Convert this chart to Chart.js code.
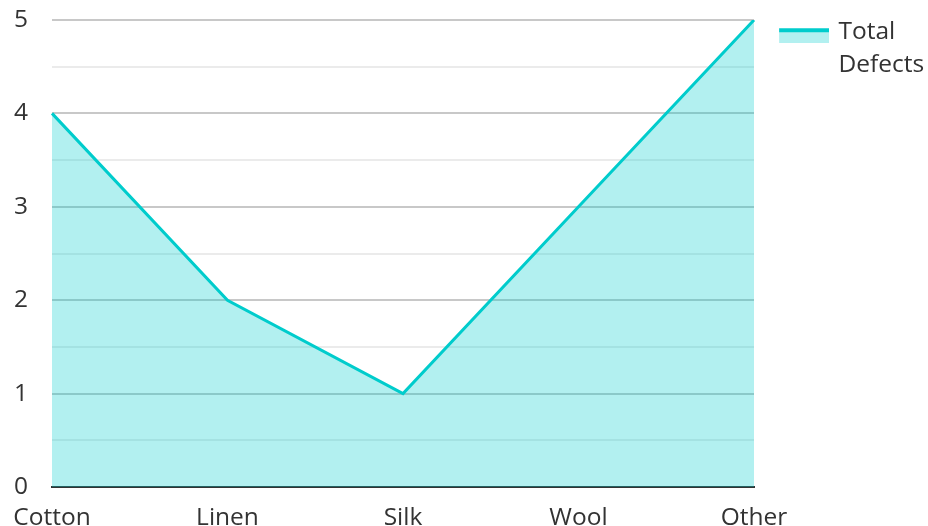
<!DOCTYPE html>
<html>
<head>
<meta charset="utf-8">
<script src="https://cdn.jsdelivr.net/npm/chart.js@4/dist/chart.umd.min.js"></script>
<style>
  html, body { margin: 0; padding: 0; background: #fff; }
  #wrap { width: 928px; height: 526px; }
</style>
</head>
<body>
<div id="wrap"><canvas id="defectChart"></canvas></div>
<script>
var categories = ["Cotton", "Linen", "Silk", "Wool", "Other"];
var defects = [4, 2, 1, 3, 5];
var seriesName = ["Total", "Defects"];

var line_color = "#00cccc";
var fill_color = "rgba(0, 204, 204, 0.3)";

// legend swatch: thick line on top of the fill colour.
// the canvas is wider than the swatch so there is a gap on its left,
// and the swatch sits a bit lower than the first text line
function makeSwatch() {
    var c = document.createElement("canvas");
    c.width = 78;
    c.height = 23;
    var g = c.getContext("2d");
    g.fillStyle = fill_color;
    g.fillRect(28, 11, 50, 12);
    g.fillStyle = line_color;
    g.fillRect(28, 8, 50, 4);
    return c;
}

Chart.defaults.font.family = "'Open Sans', 'Noto Sans', sans-serif";
Chart.defaults.font.size = 24.5;
Chart.defaults.color = "#333";

var ctx = document.getElementById("defectChart").getContext("2d");
var swatch = makeSwatch();

new Chart(ctx, {
    type: "line",
    data: {
        labels: categories,
        datasets: [{
            label: seriesName.join(" "),
            data: defects,
            borderColor: line_color,
            backgroundColor: fill_color,
            borderWidth: 3,
            pointRadius: 0,
            tension: 0,
            fill: "origin"
        }]
    },
    options: {
        responsive: true,
        maintainAspectRatio: false,
        animation: false,
        layout: { padding: 0 },
        plugins: {
            tooltip: { enabled: false },
            legend: {
                position: "right",
                align: "start",
                maxWidth: 174,
                title: {
                    display: true,
                    text: "",
                    font: { size: 10 },
                    padding: { top: 0, bottom: 7.5 }
                },
                labels: {
                    usePointStyle: true,
                    pointStyleWidth: 72.25,
                    boxHeight: 15,
                    padding: 0,
                    font: { size: 24.5, lineHeight: 1.34 },
                    color: "#333",
                    generateLabels: function (chart) {
                        return [{
                            text: seriesName,
                            pointStyle: swatch,
                            fillStyle: fill_color,
                            strokeStyle: line_color,
                            lineWidth: 0,
                            datasetIndex: 0
                        }];
                    }
                }
            }
        },
        scales: {
            x: {
                grid: { display: false },
                border: { display: true, color: "#333", width: 2 },
                ticks: { padding: 8, maxRotation: 0, color: "#333" },
                afterFit: function (scale) {
                    scale.height = 39;
                    scale.paddingLeft = 0;
                    scale.paddingRight = 0;
                }
            },
            y: {
                min: 0,
                max: 5,
                border: { display: false },
                grid: {
                    drawTicks: false,
                    color: function (c) {
                        var v = c.tick.value;
                        if (v === 0) return "#333";
                        return Number.isInteger(v) ? "#c8c8c8" : "#ebebeb";
                    },
                    lineWidth: 2
                },
                ticks: {
                    stepSize: 0.5,
                    padding: 24,
                    color: "#333",
                    autoSkip: false,
                    callback: function (v) {
                        return Number.isInteger(v) ? v : "";
                    }
                },
                afterFit: function (scale) {
                    scale.width = 52;
                    scale.paddingTop = 20;
                }
            }
        }
    }
});
</script>
</body>
</html>
